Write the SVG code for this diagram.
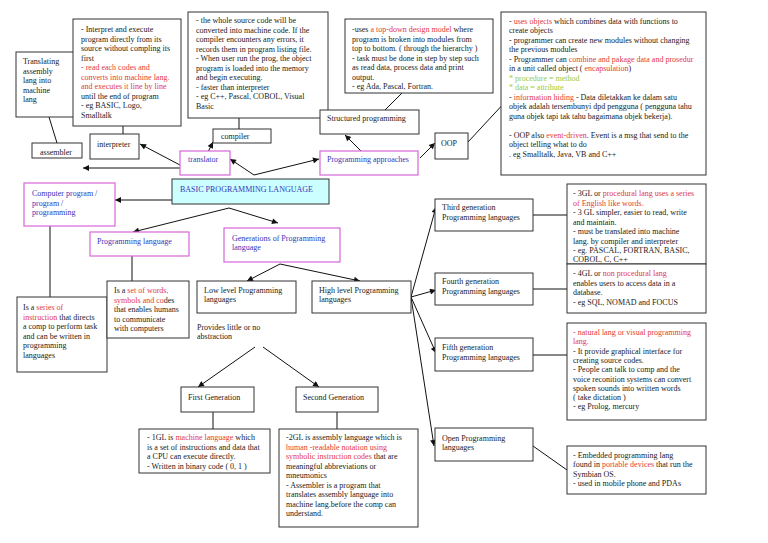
<svg xmlns="http://www.w3.org/2000/svg" width="768" height="543" viewBox="0 0 768 543" xml:space="preserve">
<style>
text{font-family:"Liberation Serif","Times New Roman",serif;font-size:8px;fill:#222}
.r{fill:#E33A3A}
.b{fill:#3636B8}
.g{fill:#9ACB3C}
.box{fill:#fff;stroke:#333;stroke-width:1}
.mbox{fill:#fff;stroke:#D866D8;stroke-width:1.2}
.cbox{fill:#CCFFFF;stroke:#333;stroke-width:1}
.ln{stroke:#111;stroke-width:1;fill:none}
.ar{stroke:#111;stroke-width:1;fill:none;marker-end:url(#ah)}
</style>
<defs>
<marker id="ah" viewBox="0 0 10 10" refX="10" refY="5" markerWidth="7" markerHeight="6" markerUnits="userSpaceOnUse" orient="auto">
<path d="M0,0 L10,5 L0,10 z" fill="#111"/>
</marker>
</defs>
<rect width="768" height="543" fill="#fff"/>
<g id="connectors">
<line class="ln" x1="123" y1="126" x2="123" y2="134"/>
<line class="ln" x1="49" y1="117" x2="57" y2="143"/>
<line class="ln" x1="239" y1="118" x2="239" y2="129"/>
<line class="ln" x1="402" y1="93" x2="385" y2="110"/>
<line class="ln" x1="468" y1="142" x2="507" y2="100"/>
<line class="ln" x1="50" y1="226" x2="50" y2="297"/>
<line class="ln" x1="132" y1="256" x2="132" y2="281"/>
<line class="ln" x1="213" y1="412" x2="213" y2="429"/>
<line class="ln" x1="337" y1="412" x2="337" y2="429"/>
<line class="ln" x1="533" y1="215" x2="567" y2="215"/>
<line class="ln" x1="533" y1="289" x2="567" y2="289"/>
<line class="ln" x1="533" y1="355" x2="567" y2="355"/>
<line class="ln" x1="533" y1="446" x2="567" y2="470"/>
<line class="ar" x1="180" y1="165" x2="140" y2="144"/>
<line class="ar" x1="180" y1="168" x2="83" y2="168"/>
<line class="ar" x1="207" y1="154" x2="213" y2="142"/>
<line class="ar" x1="254" y1="175" x2="230" y2="159"/>
<line class="ar" x1="254" y1="175" x2="319" y2="159"/>
<line class="ar" x1="362" y1="152" x2="345" y2="135"/>
<line class="ar" x1="420" y1="158" x2="435" y2="143"/>
<line class="ar" x1="172" y1="200" x2="115" y2="200"/>
<line class="ar" x1="229" y1="208" x2="133" y2="232"/>
<line class="ar" x1="229" y1="208" x2="278" y2="223"/>
<line class="ar" x1="280" y1="264" x2="247" y2="281"/>
<line class="ar" x1="280" y1="264" x2="360" y2="281"/>
<line class="ar" x1="255" y1="347" x2="198" y2="387"/>
<line class="ar" x1="263" y1="347" x2="319" y2="387"/>
<line class="ar" x1="411" y1="297" x2="436" y2="207"/>
<line class="ar" x1="411" y1="297" x2="436" y2="290"/>
<line class="ar" x1="411" y1="297" x2="436" y2="353"/>
<line class="ar" x1="411" y1="297" x2="434" y2="446"/>
</g>
<g id="translating-box">
<rect class="box" x="16" y="52" width="58" height="65"/>
<text x="23" y="64">Translating</text>
<text x="23" y="73.5">assembly</text>
<text x="23" y="83">lang into</text>
<text x="23" y="92.5">machine</text>
<text x="23" y="102">lang</text>
</g>
<g id="interpreter-desc">
<rect class="box" x="73" y="19" width="108" height="107"/>
<text x="81" y="32">- Interpret and execute</text>
<text x="81" y="41.5">program directly from its</text>
<text x="81" y="51">source without compling its</text>
<text x="81" y="60.5">first</text>
<text x="81" y="70" class="r">- read each codes and</text>
<text x="81" y="79.5" class="r">converts into machine lang.</text>
<text x="81" y="89" class="r">and executes it line by line</text>
<text x="81" y="98.5">until the end of  program</text>
<text x="81" y="108">- eg  BASIC, Logo,</text>
<text x="81" y="117.5">Smalltalk</text>
</g>
<g id="compiler-desc">
<rect class="box" x="188" y="12" width="140" height="106"/>
<text x="196" y="23">- the whole source code will  be</text>
<text x="196" y="32.5">converted into machine code. If the</text>
<text x="196" y="42">compiler encounters any errors, it</text>
<text x="196" y="51.5">records them in program listing file.</text>
<text x="196" y="61">- When user run the prog, the object</text>
<text x="196" y="70.5">program is loaded into the memory</text>
<text x="196" y="80">and begin executing.</text>
<text x="196" y="89.5">- faster than interpreter</text>
<text x="196" y="99">- eg  C++, Pascal, COBOL, Visual</text>
<text x="196" y="108.5">Basic</text>
</g>
<g id="structured-desc">
<rect class="box" x="345" y="19" width="148" height="74"/>
<text x="352" y="32">-uses <tspan class="r">a top-down design model</tspan> where</text>
<text x="352" y="41.5">program is broken into modules  from</text>
<text x="352" y="51">top to bottom. ( through the hierarchy )</text>
<text x="352" y="60.5">- task must be done in step by step such</text>
<text x="352" y="70">as read data, process data and print</text>
<text x="352" y="79.5">output.</text>
<text x="352" y="89">- eg  Ada, Pascal, Fortran.</text>
</g>
<g id="oop-desc">
<rect class="box" x="501" y="12" width="205" height="163"/>
<text x="509" y="23.5">- <tspan class="r">uses objects</tspan> which combines data with functions to</text>
<text x="509" y="33">create objects</text>
<text x="509" y="42.5">- programmer can create new modules  without changing</text>
<text x="509" y="52">the previous modules</text>
<text x="509" y="61.5">- Programmer can <tspan class="r">combine and pakage data and  prosedur</tspan></text>
<text x="509" y="71">in a  unit called object ( <tspan class="r">encapsulation</tspan>)</text>
<text x="509" y="80.5" class="g">* procedure = method</text>
<text x="509" y="90" class="g">* data = attribute</text>
<text x="509" y="99.5">- <tspan class="r">information hiding</tspan> - Data diletakkan ke dalam satu</text>
<text x="509" y="109">objek adalah tersembunyi dpd  pengguna ( pengguna tahu</text>
<text x="509" y="118.5">guna objek tapi tak tahu bagaimana objek bekerja).</text>
<text x="509" y="137.5">- OOP also <tspan class="r">event-driven</tspan>. Event is a msg that send to the</text>
<text x="509" y="147">object telling what to do</text>
<text x="509" y="156.5">. eg Smalltalk, Java, VB  and C++</text>
</g>
<g id="assembler">
<rect class="box" x="32" y="143" width="50" height="15"/>
<text x="40" y="155">assembler</text>
</g>
<g id="interpreter">
<rect class="box" x="90" y="134" width="49" height="25"/>
<text x="97" y="147">interpreter</text>
</g>
<g id="compiler">
<rect class="box" x="213" y="129" width="58" height="14"/>
<text x="221" y="139">compiler</text>
</g>
<g id="structured">
<rect class="box" x="320" y="110" width="99" height="24"/>
<text x="327" y="121">Structured programming</text>
</g>
<g id="oop">
<rect class="box" x="435" y="133" width="33" height="26"/>
<text x="441" y="146">OOP</text>
</g>
<g id="translator">
<rect class="mbox" x="180" y="151" width="50" height="24"/>
<text x="188" y="162" class="b">translator</text>
</g>
<g id="approaches">
<rect class="mbox" x="320" y="151" width="98" height="24"/>
<text x="327" y="162" class="b">Programming approaches</text>
</g>
<g id="basic">
<rect class="cbox" x="172" y="179" width="157" height="25"/>
<text x="180" y="191.5" class="b">BASIC PROGRAMMING LANGUAGE</text>
</g>
<g id="computer-program">
<rect class="mbox" x="24" y="183" width="91" height="43"/>
<text x="32" y="196" class="b">Computer program /</text>
<text x="32" y="205.5" class="b">program /</text>
<text x="32" y="215" class="b">programming</text>
</g>
<g id="series-desc">
<rect class="box" x="17" y="297" width="90" height="75"/>
<text x="23" y="310">Is a <tspan class="r">series of</tspan></text>
<text x="23" y="319.5"><tspan class="r">instruction</tspan> that directs</text>
<text x="23" y="329">a comp to perform task</text>
<text x="23" y="338.5">and can be written in</text>
<text x="23" y="348">programming</text>
<text x="23" y="357.5">languages</text>
</g>
<g id="prog-language">
<rect class="mbox" x="90" y="232" width="99" height="24"/>
<text x="97" y="244" class="b">Programming  language</text>
</g>
<g id="set-desc">
<rect class="box" x="107" y="281" width="82" height="57"/>
<text x="114" y="293">Is a <tspan class="r">set of words,</tspan></text>
<text x="114" y="302.5"><tspan class="r">symbols and co</tspan>des</text>
<text x="114" y="312">that enables humans</text>
<text x="114" y="321.5">to communicate</text>
<text x="114" y="331">with computers</text>
</g>
<g id="generations">
<rect class="mbox" x="224" y="228" width="116" height="34"/>
<text x="232" y="241" class="b">Generations of  Programming</text>
<text x="232" y="250" class="b">language</text>
</g>
<g id="low-level">
<rect class="box" x="197" y="281" width="99" height="32"/>
<text x="204" y="293">Low level   Programming</text>
<text x="204" y="302">languages</text>
</g>
<g id="provides">
<text x="197" y="330">Provides little or  no</text>
<text x="197" y="339">abstraction</text>
</g>
<g id="high-level">
<rect class="box" x="312" y="281" width="99" height="32"/>
<text x="319" y="293">High level Programming</text>
<text x="319" y="302">languages</text>
</g>
<g id="first-gen">
<rect class="box" x="181" y="387" width="73" height="25"/>
<text x="188" y="400">First Generation</text>
</g>
<g id="second-gen">
<rect class="box" x="296" y="387" width="82" height="25"/>
<text x="303" y="400">Second Generation</text>
</g>
<g id="gl1-desc">
<rect class="box" x="139" y="429" width="131" height="44"/>
<text x="147" y="440">- 1GL is <tspan class="r">machine language</tspan> which</text>
<text x="147" y="449.7">is a set of instructions and data that</text>
<text x="147" y="459.4">a CPU can execute directly.</text>
<text x="147" y="469.1">- Written in binary code ( 0, 1 )</text>
</g>
<g id="gl2-desc">
<rect class="box" x="279" y="429" width="139" height="98"/>
<text x="286" y="440">-2GL is assembly language which is</text>
<text x="286" y="449.5" class="r">human  -readable notation using</text>
<text x="286" y="459"><tspan class="r">symbolic instruction codes</tspan> that are</text>
<text x="286" y="468.5">meaningful abbreviations or</text>
<text x="286" y="478">mneumonics</text>
<text x="286" y="487.5">- Assembler is a program that</text>
<text x="286" y="497">translates assembly language into</text>
<text x="286" y="506.5">machine lang.before the comp can</text>
<text x="286" y="516">understand.</text>
</g>
<g id="third-gen">
<rect class="box" x="435" y="199" width="98" height="32"/>
<text x="442" y="210">Third generation</text>
<text x="442" y="220">Programming languages</text>
</g>
<g id="fourth-gen">
<rect class="box" x="435" y="273" width="98" height="32"/>
<text x="442" y="284">Fourth  generation</text>
<text x="442" y="294">Programming languages</text>
</g>
<g id="fifth-gen">
<rect class="box" x="435" y="338" width="98" height="33"/>
<text x="442" y="350">Fifth  generation</text>
<text x="442" y="360">Programming languages</text>
</g>
<g id="open-prog">
<rect class="box" x="435" y="428" width="98" height="33"/>
<text x="442" y="441">Open Programming</text>
<text x="442" y="450">languages</text>
</g>
<g id="gl3-desc">
<rect class="box" x="567" y="184" width="139" height="80"/>
<text x="573" y="196">- 3GL or <tspan class="r">procedural lang uses a series</tspan></text>
<text x="573" y="205.5" class="r">of English like words.</text>
<text x="573" y="215">- 3 GL simpler, easier to read, write</text>
<text x="573" y="224.5">and maintain.</text>
<text x="573" y="234">- must be translated into machine</text>
<text x="573" y="243.5">lang. by compiler and interpreter</text>
<text x="573" y="253">- eg. PASCAL, FORTRAN, BASIC,</text>
<text x="573" y="262">COBOL, C, C++</text>
</g>
<g id="gl4-desc">
<rect class="box" x="567" y="264" width="139" height="49"/>
<text x="573" y="276">- 4GL or  <tspan class="r">non  procedural lang</tspan></text>
<text x="573" y="285.5">enables users to access data in a</text>
<text x="573" y="295">database.</text>
<text x="573" y="304.5">- eg  SQL, NOMAD and FOCUS</text>
</g>
<g id="gl5-desc">
<rect class="box" x="567" y="323" width="139" height="97"/>
<text x="573" y="335" class="r">- natural lang or  visual  programming</text>
<text x="573" y="344.3" class="r">lang.</text>
<text x="573" y="353.6">- It provide graphical interface for</text>
<text x="573" y="362.9">creating source codes.</text>
<text x="573" y="372.2">- People can talk to comp and the</text>
<text x="573" y="381.5">voice reconition systems can convert</text>
<text x="573" y="390.8">spoken sounds into written words</text>
<text x="573" y="400.1"> ( take dictation )</text>
<text x="573" y="409.4">-  eg Prolog, mercury</text>
</g>
<g id="open-desc">
<rect class="box" x="567" y="446" width="139" height="48"/>
<text x="573" y="458">- Embedded  programming lang</text>
<text x="573" y="467.3">found in <tspan class="r">portable devices</tspan> that run the</text>
<text x="573" y="476.6">Symbian OS.</text>
<text x="573" y="486">- used  in mobile phone and  PDAs</text>
</g>
</svg>
